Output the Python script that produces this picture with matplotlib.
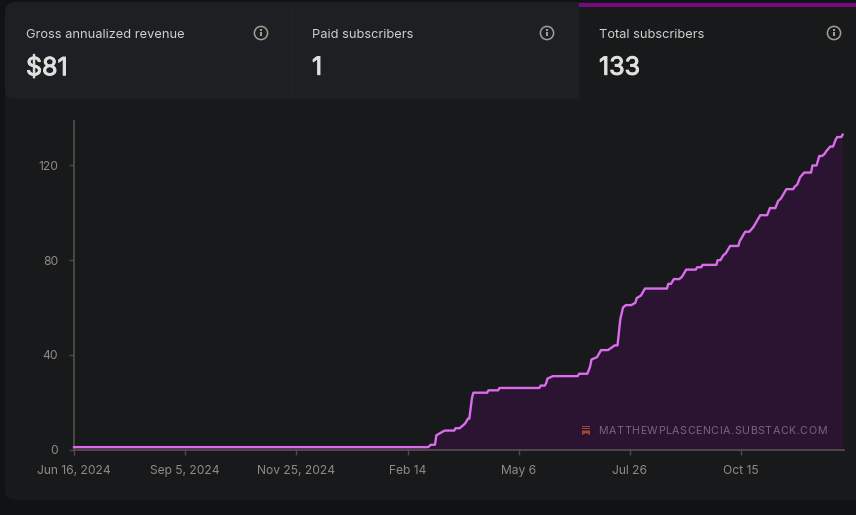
import matplotlib
matplotlib.use("Agg")
import matplotlib.pyplot as plt
import matplotlib.patheffects as pe
from matplotlib.patches import Circle, FancyBboxPatch, Polygon, Rectangle

W, H = 856, 515

# Days since the first date on the axis, and subscriber count on that day
days = [0, 258, 260, 263, 264, 267, 270, 277, 278, 281, 283, 285, 287, 288, 290, 291,
        301, 302, 309, 310, 339, 340, 343, 344, 345, 349, 367, 368, 374, 376, 377, 381,
        384, 389, 394, 396, 398, 400, 402, 406, 409, 410, 413, 416, 432, 433, 435, 437,
        441, 443, 446, 453, 454, 457, 458, 468, 469, 471, 473, 475, 478, 484, 485, 486,
        489, 492, 495, 497, 500, 505, 507, 511, 513, 515, 516, 519, 524, 525, 527, 529,
        532, 537, 538, 541, 543, 545, 547, 548, 551, 553, 555, 556, 559, 560]
subs = [1, 1, 2, 2, 6, 7, 8, 8, 9, 9, 10, 11, 13, 13, 22, 24,
        24, 25, 25, 26, 26, 27, 27, 28, 30, 31, 31, 32, 32, 35, 38, 39,
        42, 42, 44, 44, 55, 60, 61, 61, 62, 64, 65, 68, 68, 70, 70, 72,
        72, 73, 76, 76, 77, 77, 78, 78, 80, 80, 82, 83, 86, 86, 88, 89,
        92, 92, 94, 96, 99, 99, 102, 102, 105, 106, 107, 110, 110, 111, 112, 115,
        117, 117, 120, 120, 124, 124, 125, 126, 128, 128, 131, 132, 132, 133]
x_ticks = [0, 81, 162, 243, 324, 405, 486]
x_labels = ["Jun 16, 2024", "Sep 5, 2024", "Nov 25, 2024", "Feb 14", "May 6", "Jul 26", "Oct 15"]
y_ticks = [0, 40, 80, 120]

cards = [("Gross annualized revenue", "$81", 26, 261),
         ("Paid subscribers", "1", 312, 547),
         ("Total subscribers", "133", 599, 834)]
site = "MATTHEWPLASCENCIA.SUBSTACK.COM"

plt.rcParams["font.family"] = ["Inter", "DejaVu Sans"]
fig = plt.figure(figsize=(W / 100, H / 100), dpi=100, facecolor="#0f1314")

# Pixel-space layer for the panel, the stat cards and the icons
bg = fig.add_axes([0, 0, 1, 1], zorder=0)
bg.set_xlim(0, W)
bg.set_ylim(H, 0)
bg.axis("off")
bg.add_patch(FancyBboxPatch((5, 2), 860, 498, boxstyle="round,pad=0,rounding_size=10",
                            fc="#17191b", ec="none"))
bg.add_patch(FancyBboxPatch((5, 2), 300, 97, boxstyle="round,pad=0,rounding_size=10",
                            fc="#1c2022", ec="none"))
bg.add_patch(Rectangle((20, 2), 559, 97, fc="#1c2022", ec="none"))
bg.add_patch(Rectangle((292, 2), 1, 97, fc="#1e2325", ec="none"))
bg.add_patch(Rectangle((579, 3), 277, 4, fc="#770a80", ec="none"))

for label, value, tx, ix in cards:
    bg.text(tx, 34.6, label, color="#d0d0cd", fontsize=9.25, va="center", ha="left")
    bg.text(tx, 68.2, value, color="#e0e0dd", fontsize=18, va="center", ha="left",
            path_effects=[pe.withStroke(linewidth=0.7, foreground="#e0e0dd")])
    bg.add_patch(Circle((ix, 33), 6.6, fc="none", ec="#a39e94", lw=1.1))
    bg.add_patch(Rectangle((ix - 0.6, 32), 1.3, 4.2, fc="#a39e94", ec="none"))
    bg.add_patch(Rectangle((ix - 0.6, 29.4), 1.3, 1.4, fc="#a39e94", ec="none"))

# Subscriber growth chart
ax = fig.add_axes([74 / W, 1 - 449.5 / H, (844 - 74) / W, (449.5 - 120.5) / H], zorder=1)
ax.patch.set_alpha(0)
ax.set_xlim(0, 561)
ax.set_ylim(0, 139)
ax.fill_between(days, subs, 0, color="#2b1431", lw=0, zorder=1)
ax.plot(days, subs, color="#dc6cee", lw=1.7, solid_joinstyle="round", zorder=3, clip_on=False)

for side in ("top", "right"):
    ax.spines[side].set_visible(False)
ax.spines["left"].set_color("#4c4b48")
ax.spines["bottom"].set_color("#544a50")
ax.spines["left"].set_linewidth(1.3)
ax.spines["bottom"].set_linewidth(1.3)
ax.set_xticks(x_ticks, x_labels)
ax.set_yticks(y_ticks)
ax.tick_params(axis="both", length=3.5, width=1, color="#4c4b48", labelcolor="#8f8b82",
               labelsize=8.7, pad=8)

# Publication watermark, drawn above the chart
top = fig.add_axes([0, 0, 1, 1], zorder=2)
top.set_xlim(0, W)
top.set_ylim(H, 0)
top.axis("off")
mark = "#a0482f"
for y0 in (425.5, 428):
    top.add_patch(Rectangle((582, y0), 8, 1.2, fc=mark, ec="none"))
top.add_patch(Polygon([(582, 430.5), (590, 430.5), (590, 435), (586, 433), (582, 435)],
                      closed=True, fc=mark, ec="none"))

# Letter-spaced caption: advance each glyph by its width plus fixed tracking
renderer = fig.canvas.get_renderer()
pen = 598.5
for ch in site:
    t = top.text(pen, 430.6, ch, color="#766679", fontsize=7.7, va="center", ha="left")
    probe = top.text(0, 0, ch + ch, fontsize=7.7)
    single = top.text(0, 0, ch, fontsize=7.7)
    advance = probe.get_window_extent(renderer).width - single.get_window_extent(renderer).width
    probe.remove()
    single.remove()
    pen += advance + 0.56

fig.savefig("out.png", dpi=100, facecolor=fig.get_facecolor())
